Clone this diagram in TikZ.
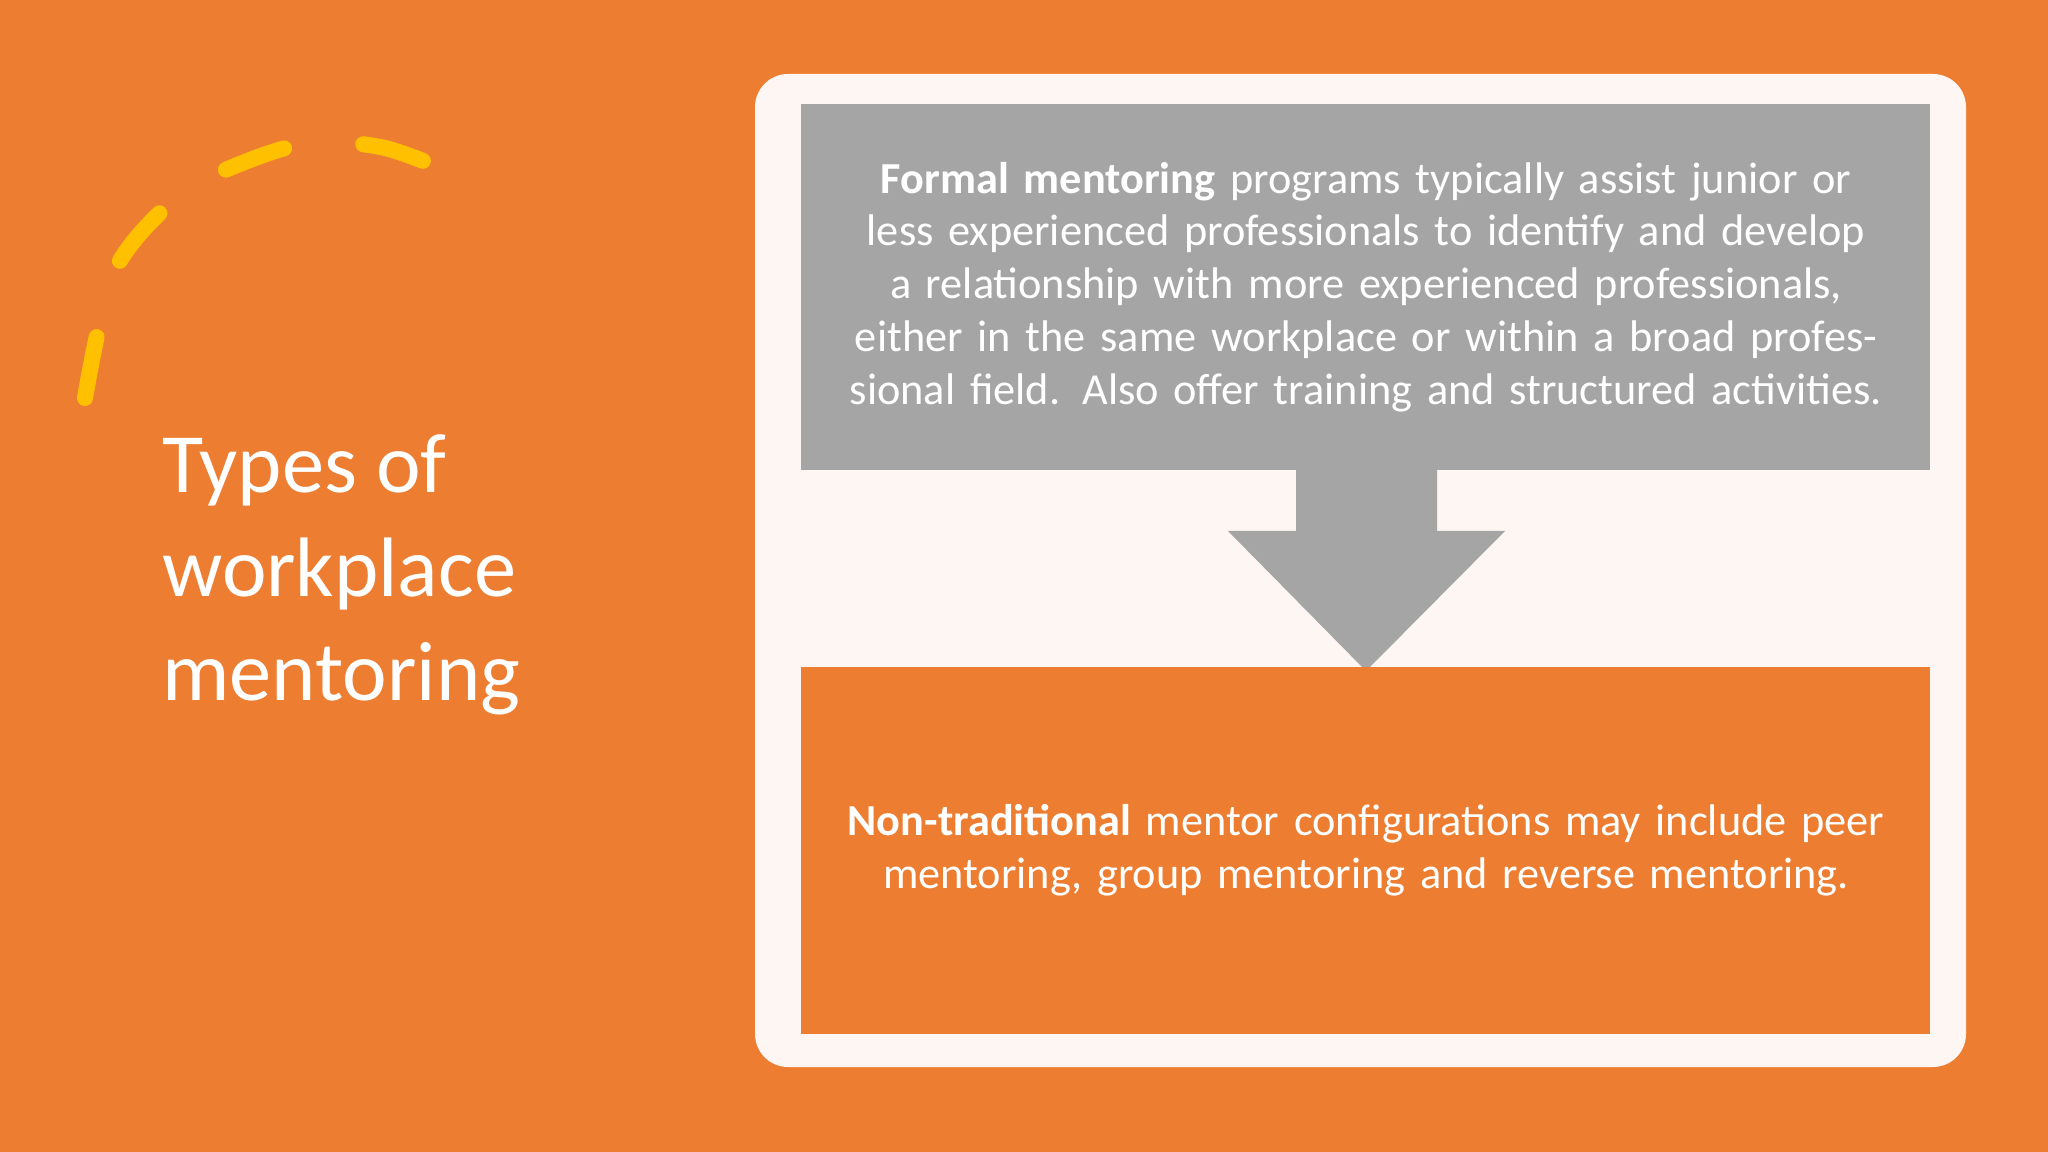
\documentclass[tikz,border=0pt]{standalone}
\usepackage{fontspec}
\setmainfont{Carlito}
\definecolor{bgor}{HTML}{ED7D31}
\definecolor{panel}{HTML}{FDF6F2}
\definecolor{gbox}{HTML}{A5A5A5}
\definecolor{yel}{HTML}{FFC000}
\begin{document}
\begin{tikzpicture}[x=0.01cm,y=-0.01cm,
  bodytext/.style={text=white,align=center,text width=10.9cm,font=\fontsize{12.6}{15}\selectfont}]
\fill[bgor] (0,0) rectangle (2048,1152);
\useasboundingbox (0,0) rectangle (2048,1152);
\fill[panel,rounded corners=0.33cm] (755,74) rectangle (1966,1067);
\fill[gbox] (801,104) rectangle (1930,470);
\fill[gbox] (1296,469) -- (1437,469) -- (1437,531) -- (1505,531) -- (1366,671) -- (1228,531) -- (1296,531) -- cycle;
\fill[bgor] (801,667) rectangle (1930,1034);
\node[bodytext] (formal) at (1366,287) {\textbf{Formal mentoring} programs typically assist junior or less experienced professionals to identify and develop a relationship with more experienced professionals, either in the same workplace or within a broad professional field. Also offer training and structured activities.};
\node[bodytext] (nontrad) at (1366,850) {\textbf{Non-traditional} mentor configurations may include peer mentoring, group mentoring and reverse mentoring.};
\node[anchor=west,text=white,align=left,font=\fontsize{24}{29.5}\selectfont] (title) at (150,575) {Types of\\workplace\\mentoring};
\draw[yel,line width=0.16cm,line cap=round,dash pattern=on 0.62cm off 0.8cm] plot[smooth] coordinates {(85,398) (115,270) (180,195) (250,160) (315,142) (385,148) (453,173)};
\end{tikzpicture}
\end{document}
